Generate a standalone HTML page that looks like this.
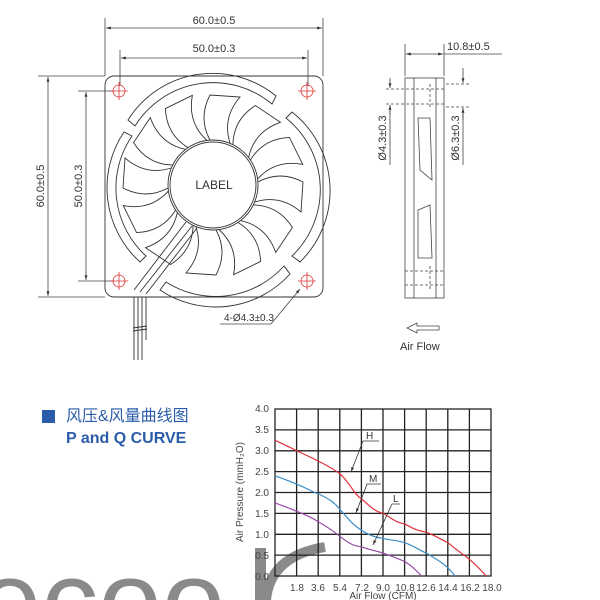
<!DOCTYPE html>
<html><head><meta charset="utf-8"><style>
html,body{margin:0;padding:0;background:#fff;}
body{width:600px;height:600px;overflow:hidden;position:relative;font-family:"Liberation Sans","Noto Sans CJK SC",sans-serif;}
svg{position:absolute;left:0;top:0;overflow:hidden;}
</style></head><body>
<svg width="600" height="600" viewBox="0 0 600 600" xmlns="http://www.w3.org/2000/svg" font-family="Liberation Sans, Noto Sans CJK SC, sans-serif">
<defs>
<marker id="a" viewBox="0 0 10 10" refX="10" refY="5" markerWidth="6" markerHeight="6" orient="auto-start-reverse"><path d="M0,2 L10,5 L0,8 z" fill="#333"/></marker>
<clipPath id="c"><rect x="0" y="0" width="600" height="600"/></clipPath>
</defs>
<g clip-path="url(#c)">
<!-- watermark -->
<g fill="#8a8a8a">
<text x="-22" y="640" font-size="114" fill="#8a8a8a">ecoo</text>
<rect x="255" y="548" width="11" height="52"/>
<path d="M266,600 Q270,556 325,547" stroke="#8a8a8a" stroke-width="10" fill="none"/>
</g>
<!-- front dims -->
<g stroke="#444" stroke-width="0.8" fill="none">
<line x1="105" y1="18" x2="105" y2="76"/><line x1="323" y1="18" x2="323" y2="76"/>
<line x1="106" y1="28" x2="322" y2="28" marker-start="url(#a)" marker-end="url(#a)"/>
<line x1="120" y1="50" x2="120" y2="86"/><line x1="308" y1="50" x2="308" y2="86"/>
<line x1="121" y1="58" x2="307" y2="58" marker-start="url(#a)" marker-end="url(#a)"/>
<line x1="38" y1="76" x2="105" y2="76"/><line x1="38" y1="297" x2="105" y2="297"/>
<line x1="48" y1="77" x2="48" y2="296" marker-start="url(#a)" marker-end="url(#a)"/>
<line x1="78" y1="91" x2="114" y2="91"/><line x1="78" y1="281" x2="114" y2="281"/>
<line x1="86" y1="92" x2="86" y2="280" marker-start="url(#a)" marker-end="url(#a)"/>
<line x1="300" y1="289" x2="271" y2="324" marker-start="url(#a)"/>
<line x1="271" y1="324" x2="220" y2="324"/>
</g>
<g font-size="11" fill="#333">
<text x="214" y="24" text-anchor="middle">60.0±0.5</text>
<text x="214" y="52" text-anchor="middle">50.0±0.3</text>
<text x="44" y="186" text-anchor="middle" transform="rotate(-90 44 186)">60.0±0.5</text>
<text x="82" y="186" text-anchor="middle" transform="rotate(-90 82 186)">50.0±0.3</text>
<text x="224" y="321" font-size="10">4-Ø4.3±0.3</text>
</g>
<!-- fan -->
<g stroke="#333" stroke-width="0.9" fill="none">
<rect x="105" y="76" width="218" height="221" rx="9"/>
<path d="M128,120 A100,100 0 0 1 276,96 L272,104 A92,92 0 0 0 135,126 Z"/>
<path d="M292,112 A100,100 0 0 1 300,262 L292,256 A92,92 0 0 0 286,118 Z"/>
<path d="M290,274 A100,100 0 0 1 160,290 L166,282 A92,92 0 0 0 284,266 Z"/>
<path d="M140,262 A100,100 0 0 1 124,132 L132,136 A92,92 0 0 0 146,256 Z"/>
<circle cx="213" cy="185" r="45"/><circle cx="213" cy="185" r="43"/>
<g id="bl">
<path d="M210,140 Q198,118 210,95 L240,97 Q222,118 230,143"/>
</g>
<use href="#bl" transform="rotate(30 213 185)"/><use href="#bl" transform="rotate(60 213 185)"/><use href="#bl" transform="rotate(90 213 185)"/><use href="#bl" transform="rotate(120 213 185)"/><use href="#bl" transform="rotate(150 213 185)"/><use href="#bl" transform="rotate(180 213 185)"/><use href="#bl" transform="rotate(210 213 185)"/><use href="#bl" transform="rotate(240 213 185)"/><use href="#bl" transform="rotate(270 213 185)"/><use href="#bl" transform="rotate(300 213 185)"/><use href="#bl" transform="rotate(330 213 185)"/>
<path d="M186,222 L134,290 M192,226 L140,292 M197,228 L146,294"/>
<path d="M134,297 L134,360 M138,297 L138,360 M142,297 L142,360 M146,297 L146,340"/>
<path d="M133,328 L147,326 M133,331 L147,329"/>
</g>
<g stroke="#d33" stroke-width="0.8" fill="none">
<circle cx="119" cy="91" r="6"/><circle cx="307" cy="91" r="6"/><circle cx="119" cy="281" r="6"/><circle cx="307" cy="281" r="6"/>
<path d="M110,91h18M119,82v18M298,91h18M307,82v18M110,281h18M119,272v18M298,281h18M307,272v18"/>
</g>
<text x="214" y="189" font-size="12" fill="#333" text-anchor="middle">LABEL</text>
<!-- side view -->
<g stroke="#444" stroke-width="0.8" fill="none">
<rect x="405" y="78" width="39" height="220"/>
<line x1="414" y1="78" x2="414" y2="298"/><line x1="436" y1="78" x2="436" y2="298"/>
<g stroke-dasharray="3,2"><line x1="386" y1="89" x2="444" y2="89"/><line x1="386" y1="104" x2="444" y2="104"/><line x1="446" y1="84" x2="470" y2="84"/><line x1="446" y1="107" x2="470" y2="107"/>
<line x1="405" y1="271" x2="444" y2="271"/><line x1="405" y1="285" x2="444" y2="285"/><line x1="430" y1="84" x2="430" y2="108"/><line x1="430" y1="266" x2="430" y2="290"/></g>
<path d="M418,118 L430,118 L432,180 L420,170 Z M418,210 L430,205 L432,258 L418,258 Z"/>
<line x1="405" y1="44" x2="405" y2="76"/><line x1="444" y1="44" x2="444" y2="76"/>
<line x1="406" y1="54" x2="443" y2="54" marker-start="url(#a)" marker-end="url(#a)"/>
<line x1="444" y1="54" x2="502" y2="54"/>
<line x1="390" y1="78" x2="390" y2="88" marker-end="url(#a)"/><line x1="390" y1="115" x2="390" y2="105" marker-end="url(#a)"/><line x1="390" y1="105" x2="390" y2="165"/>
<line x1="463" y1="68" x2="463" y2="83" marker-end="url(#a)"/><line x1="463" y1="120" x2="463" y2="108" marker-end="url(#a)"/><line x1="463" y1="108" x2="463" y2="165"/>
<path d="M407,328 L417,323 L417,326 L439,326 L439,330 L417,330 L417,333 Z"/>
</g>
<g font-size="11" fill="#333">
<text x="447" y="50">10.8±0.5</text>
<text x="386" y="138" text-anchor="middle" transform="rotate(-90 386 138)">Ø4.3±0.3</text>
<text x="459" y="138" text-anchor="middle" transform="rotate(-90 459 138)">Ø6.3±0.3</text>
<text x="400" y="350">Air Flow</text>
</g>
<!-- title -->
<rect x="42" y="410" width="13" height="13" fill="#2a5caa"/>
<text x="66" y="421" font-size="16" fill="#2a5caa">风压&amp;风量曲线图</text>
<text x="66" y="443" font-size="16" font-weight="bold" fill="#2a5caa">P and Q CURVE</text>
<!-- chart -->
<g stroke="#222" stroke-width="1.3" fill="none">
<rect x="275" y="409" width="216" height="167"/>
<path d="M296.6,409V576M318.2,409V576M339.8,409V576M361.4,409V576M383,409V576M404.6,409V576M426.2,409V576M447.8,409V576M469.4,409V576"/>
<path d="M275,429.9H491M275,450.8H491M275,471.6H491M275,492.5H491M275,513.4H491M275,534.3H491M275,555.1H491"/>
</g>
<g transform="translate(275,576) scale(12,-41.75)" fill="none" stroke-width="1.2">
<path vector-effect="non-scaling-stroke" stroke="#e0303c" d="M0,3.25 C1,3.12 1.8,3 1.8,3 C2.7,2.88 4.5,2.65 5.4,2.45 C6.2,2.25 6.6,1.95 7.2,1.85 C8,1.65 8.3,1.55 9,1.5 C9.8,1.38 10,1.28 10.8,1.25 C11.7,1.1 12,1.08 12.6,1.05 C13.5,0.95 14,0.85 14.4,0.8 C15.2,0.6 15.8,0.5 16.2,0.4 C16.8,0.25 17.3,0.1 17.6,0"/>
<path vector-effect="non-scaling-stroke" stroke="#3a8ec8" d="M0,2.4 C1,2.3 1.8,2.2 1.8,2.2 C2.7,2.1 3.2,2 3.6,1.97 C4.5,1.85 5,1.75 5.4,1.6 C6.3,1.3 6.6,1.2 7.2,1.1 C8,0.95 8.4,0.93 9,0.9 C9.8,0.85 10.2,0.85 10.8,0.8 C11.7,0.7 12,0.62 12.6,0.55 C13.5,0.4 14,0.3 14.4,0.2 C14.7,0.1 14.9,0.05 15,0"/>
<path vector-effect="non-scaling-stroke" stroke="#9a4aa8" d="M0,1.75 C1,1.65 1.8,1.55 1.8,1.55 C2.7,1.45 3.2,1.38 3.6,1.3 C4.5,1.15 5,1.05 5.4,0.95 C6.3,0.75 6.6,0.72 7.2,0.7 C8,0.62 8.4,0.6 9,0.55 C9.8,0.47 10.2,0.42 10.8,0.35 C11.5,0.22 11.9,0.1 12.2,0"/>
</g>
<g stroke="#333" stroke-width="0.8" fill="none">
<path d="M379,441 L363,441 L351,472" marker-end="url(#a)"/>
<path d="M381,484 L367,484 L356,513" marker-end="url(#a)"/>
<path d="M400,504 L392,504 L373,545" marker-end="url(#a)"/>
</g>
<g font-size="10" fill="#333">
<text x="366" y="439">H</text><text x="369" y="482">M</text><text x="393" y="502">L</text>
</g>
<g font-size="10" fill="#444" text-anchor="end">
<text x="269" y="412">4.0</text><text x="269" y="433">3.5</text><text x="269" y="454">3.0</text><text x="269" y="475">2.5</text><text x="269" y="496">2.0</text><text x="269" y="517">1.5</text><text x="269" y="538">1.0</text><text x="269" y="559">0.5</text><text x="269" y="580">0.0</text>
</g>
<g font-size="10" fill="#444" text-anchor="middle">
<text x="297" y="591">1.8</text><text x="318" y="591">3.6</text><text x="340" y="591">5.4</text><text x="362" y="591">7.2</text><text x="383" y="591">9.0</text><text x="405" y="591">10.8</text><text x="426" y="591">12.6</text><text x="448" y="591">14.4</text><text x="470" y="591">16.2</text><text x="492" y="591">18.0</text>
<text x="383" y="599">Air Flow (CFM)</text>
</g>
<text x="243" y="492" font-size="10" fill="#444" text-anchor="middle" transform="rotate(-90 243 492)">Air Pressure (mmH₂O)</text>
</g>
</svg>
</body></html>
